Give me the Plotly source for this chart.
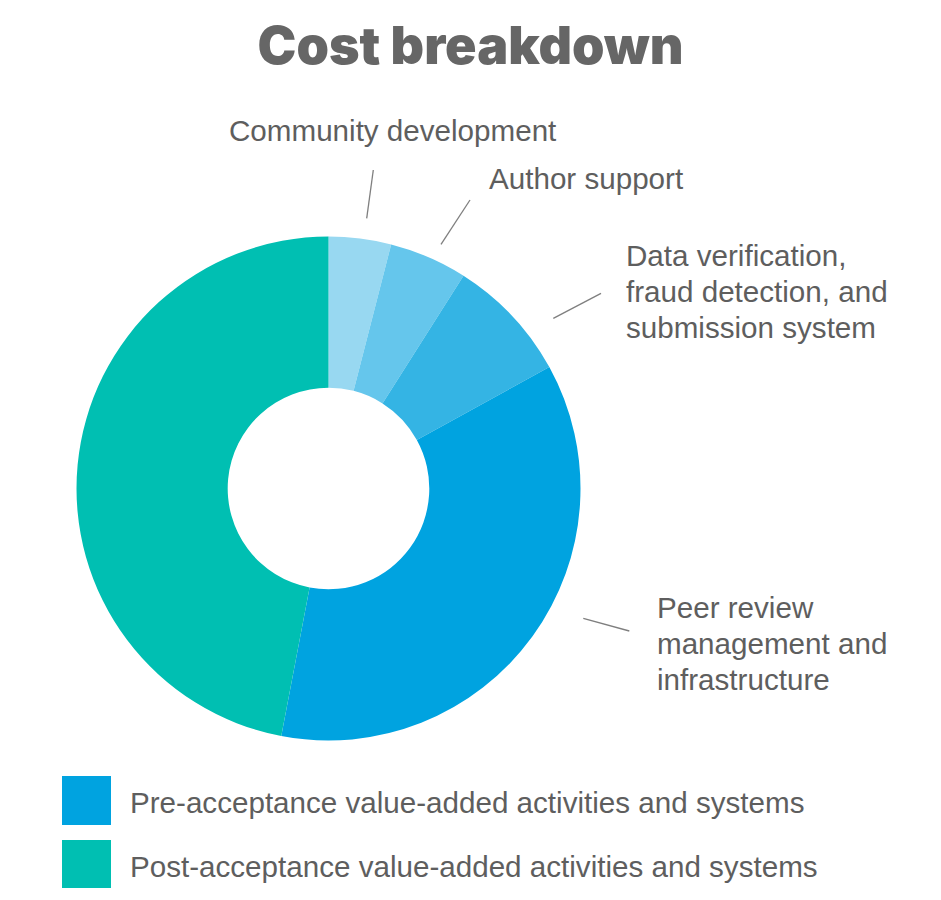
import plotly.graph_objects as go

# Slice data (percent of total cost), clockwise from 12 o'clock
categories = [
    "Community development",
    "Author support",
    "Data verification, fraud detection, and submission system",
    "Peer review management and infrastructure",
    "Post-acceptance value-added activities and systems",
]
values = [4, 5, 8, 36, 47]
slice_colors = ["#98D8F1", "#65C6EC", "#34B4E4", "#00A3E0", "#00BFB2"]

# Legend groups
legend_labels = [
    "Pre-acceptance value-added activities and systems",
    "Post-acceptance value-added activities and systems",
]
legend_colors = ["#00A3E0", "#00BFB2"]

# the page adds an 8px body margin, so the figure is a bit smaller than the window
OFF = 8
W, H = 941 - 2 * OFF, 900 - 2 * OFF
TEXT_COLOR = "#5E5E5E"
FONT = "Liberation Sans, Arial, sans-serif"
FONT_SIZE = 29.6
LINE_STEP = 36


def px_x(x):
    # window pixel x -> paper x
    return (x - OFF) / W


def px_y(y):
    # window pixel y (from top) -> paper y (from bottom)
    return 1 - (y - OFF) / H


# Pie placement in window pixels (centre and outer radius)
cx, cy, R = 328.5, 488.5, 252

fig = go.Figure()

fig.add_trace(
    go.Pie(
        labels=categories,
        values=values,
        marker=dict(colors=slice_colors, line=dict(width=0)),
        hole=0.4,
        sort=False,
        direction="clockwise",
        rotation=0,
        textinfo="none",
        showlegend=False,
        hovertemplate="%{label}: %{percent}<extra></extra>",
        domain=dict(
            x=[px_x(cx - R), px_x(cx + R)],
            y=[px_y(cy + R), px_y(cy - R)],
        ),
    )
)

# Outside labels: lines of text, left x, centre y of first line, leader line (x0, y0, x1, y1)
label_layout = [
    (["Community development"], 227, 131, (366.7, 218.3, 373.3, 170)),
    (["Author support"], 487, 179, (441, 244.3, 470, 200)),
    (["Data verification,", "fraud detection, and", "submission system"], 624, 255,
     (553.3, 318.3, 601, 293.3)),
    (["Peer review", "management and", "infrastructure"], 655, 607,
     (583.3, 618.3, 629.3, 631)),
]

annotations = []
shapes = []
for lines, tx, ty, (x0, y0, x1, y1) in label_layout:
    for i, line in enumerate(lines):
        annotations.append(dict(
            text=line, x=px_x(tx), y=px_y(ty + i * LINE_STEP), xref="paper", yref="paper",
            xanchor="left", yanchor="middle", align="left", showarrow=False,
            font=dict(family=FONT, size=FONT_SIZE, color=TEXT_COLOR),
        ))
    shapes.append(dict(
        type="line", xref="paper", yref="paper",
        x0=px_x(x0), y0=px_y(y0), x1=px_x(x1), y1=px_y(y1),
        line=dict(color="#7F7F7F", width=1.3),
    ))

# Custom legend (big squares)
legend_rows = [(776, 825), (840, 888)]
for label, color, (top, bottom) in zip(legend_labels, legend_colors, legend_rows):
    shapes.append(dict(
        type="rect", xref="paper", yref="paper",
        x0=px_x(62), x1=px_x(111), y0=px_y(bottom), y1=px_y(top),
        fillcolor=color, line=dict(width=0),
    ))
    annotations.append(dict(
        text=label, x=px_x(128), y=px_y((top + bottom) / 2 + 2),
        xref="paper", yref="paper", xanchor="left", yanchor="middle",
        showarrow=False, font=dict(family=FONT, size=FONT_SIZE, color=TEXT_COLOR),
    ))

fig.update_layout(
    width=W,
    height=H,
    margin=dict(l=0, r=0, t=0, b=0),
    paper_bgcolor="white",
    plot_bgcolor="white",
    title=dict(
        text="Cost breakdown",
        x=0.5, xanchor="center",
        y=px_y(46), yanchor="middle",
        font=dict(family="Inter, Lato, sans-serif", size=52, color="#666666", weight=900),
    ),
    annotations=annotations,
    shapes=shapes,
)

fig.write_html("out.html")
